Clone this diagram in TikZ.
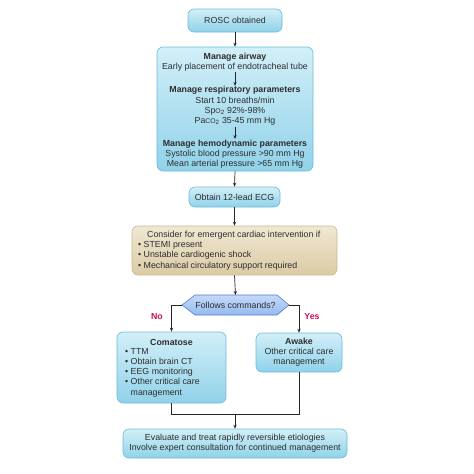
\documentclass[tikz,border=0pt]{standalone}
\usepackage{fontspec}
\setmainfont{Liberation Sans}
\usetikzlibrary{arrows.meta}
\definecolor{boxtop}{HTML}{D2EFF8}
\definecolor{boxbot}{HTML}{90D2E9}
\definecolor{boxline}{HTML}{6CBCD8}
\definecolor{beigetop}{HTML}{F0E8D4}
\definecolor{beigebot}{HTML}{DBCAA4}
\definecolor{beigeline}{HTML}{CDB98E}
\definecolor{hextop}{HTML}{C4DAF8}
\definecolor{hexbot}{HTML}{95B9EF}
\definecolor{hexline}{HTML}{4E7FCF}
\definecolor{txt}{HTML}{2E2E2E}
\definecolor{lab}{HTML}{C8105A}
\newcommand{\smc}[1]{{\fontsize{6.8}{8}\selectfont #1}}
\begin{document}
\begin{tikzpicture}[x=1pt,y=-1pt,
  every node/.style={font=\fontsize{8.8}{10.2}\selectfont, text=txt, inner sep=0pt},
  cbox/.style={draw=boxline, line width=0.6pt, rounded corners=6pt, top color=boxtop, bottom color=boxbot, align=center},
  bbox/.style={draw=beigeline, line width=0.6pt, rounded corners=6pt, top color=beigetop, bottom color=beigebot},
  conn/.style={draw=black!85, line width=0.7pt},
  arr/.style={conn, -{Stealth[length=4pt,width=3.2pt]}},
  lbl/.style={font=\fontsize{8.8}{10}\selectfont\bfseries, text=lab}
]
\fill[white] (0,0) rectangle (474,474);
\useasboundingbox (0,0) rectangle (474,474);

% boxes
\node[cbox, minimum width=94pt, minimum height=23pt] (rosc) at (235,20.5) {ROSC obtained};
\node[cbox, minimum width=156pt, minimum height=124pt] (manage) at (235,109) {};
\node[align=center] (air) at (235,62) {\textbf{Manage airway}\\Early placement of endotracheal tube};
\node[align=center] (resp) at (235,106) {\textbf{Manage respiratory parameters}\\Start 10 breaths/min\\Sp\smc{O}\textsubscript{2} 92\%-98\%\\Pa\smc{CO}\textsubscript{2} 35-45 mm Hg};
\node[align=center] (hemo) at (235,154) {\textbf{Manage hemodynamic parameters}\\Systolic blood pressure >90 mm Hg\\Mean arterial pressure >65 mm Hg};

\node[cbox, minimum width=91pt, minimum height=20pt] (ecg) at (234.5,197) {Obtain 12-lead ECG};

\node[bbox, minimum width=205pt, minimum height=49pt] (cons) at (234.5,250.5) {};
\node[anchor=west, align=left] (constext) at (138,250.5) {\hspace{9pt}Consider for emergent cardiac intervention if\\\textbullet\ STEMI present\\\textbullet\ Unstable cardiogenic shock\\\textbullet\ Mechanical circulatory support required};

% decision hexagon
\coordinate (hexW) at (182,305);
\coordinate (hexN) at (235.5,295);
\coordinate (hexE) at (289,305);
\path[draw=hexline, line width=0.6pt, top color=hextop, bottom color=hexbot]
  (hexW) -- (195,295) -- (277,295) -- (hexE) -- (277,315) -- (195,315) -- cycle;
\node (follows) at (235.5,305) {Follows commands?};

\node[cbox, minimum width=109pt, minimum height=71pt] (coma) at (171.5,367.5) {};
\node[font=\fontsize{8.8}{10}\selectfont\bfseries] (comahd) at (171.5,342) {Comatose};
\node[anchor=west, align=left] (comalist) at (125,372.5) {\textbullet\ TTM\\\textbullet\ Obtain brain CT\\\textbullet\ EEG monitoring\\\textbullet\ Other critical care\\\phantom{\textbullet\ }management};

\node[cbox, minimum width=86pt, minimum height=39pt] (awake) at (299,352.5) {\textbf{Awake}\\Other critical care\\management};

\node[cbox, minimum width=224pt, minimum height=29pt] (final) at (235,443.5) {Evaluate and treat rapidly reversible etiologies\\Involve expert consultation for continued management};

% connectors
\draw[arr] ([yshift=-1pt]air.south) -- ([yshift=0.5pt]resp.north);
\draw[arr] ([yshift=-1pt]resp.south) -- ([yshift=0.5pt]hemo.north);
\draw[arr] (rosc.south) -- (manage.north);
\draw[arr] (manage.south) -- (ecg.north);
\draw[arr] (ecg.south) -- (cons.north);
\draw[arr] (cons.south) -- (hexN);
\draw[arr] (hexW) -| (coma.north);
\draw[arr] (hexE) -| (awake.north);
\node[lbl] (no) at (157,317) {No};
\node[lbl] (yes) at (312,317) {Yes};
\coordinate (merge) at (235,414);
\draw[conn] (coma.south) |- (merge);
\draw[conn] (awake.south) |- (merge);
\draw[arr] (merge) -- (final.north);
\end{tikzpicture}
\end{document}
